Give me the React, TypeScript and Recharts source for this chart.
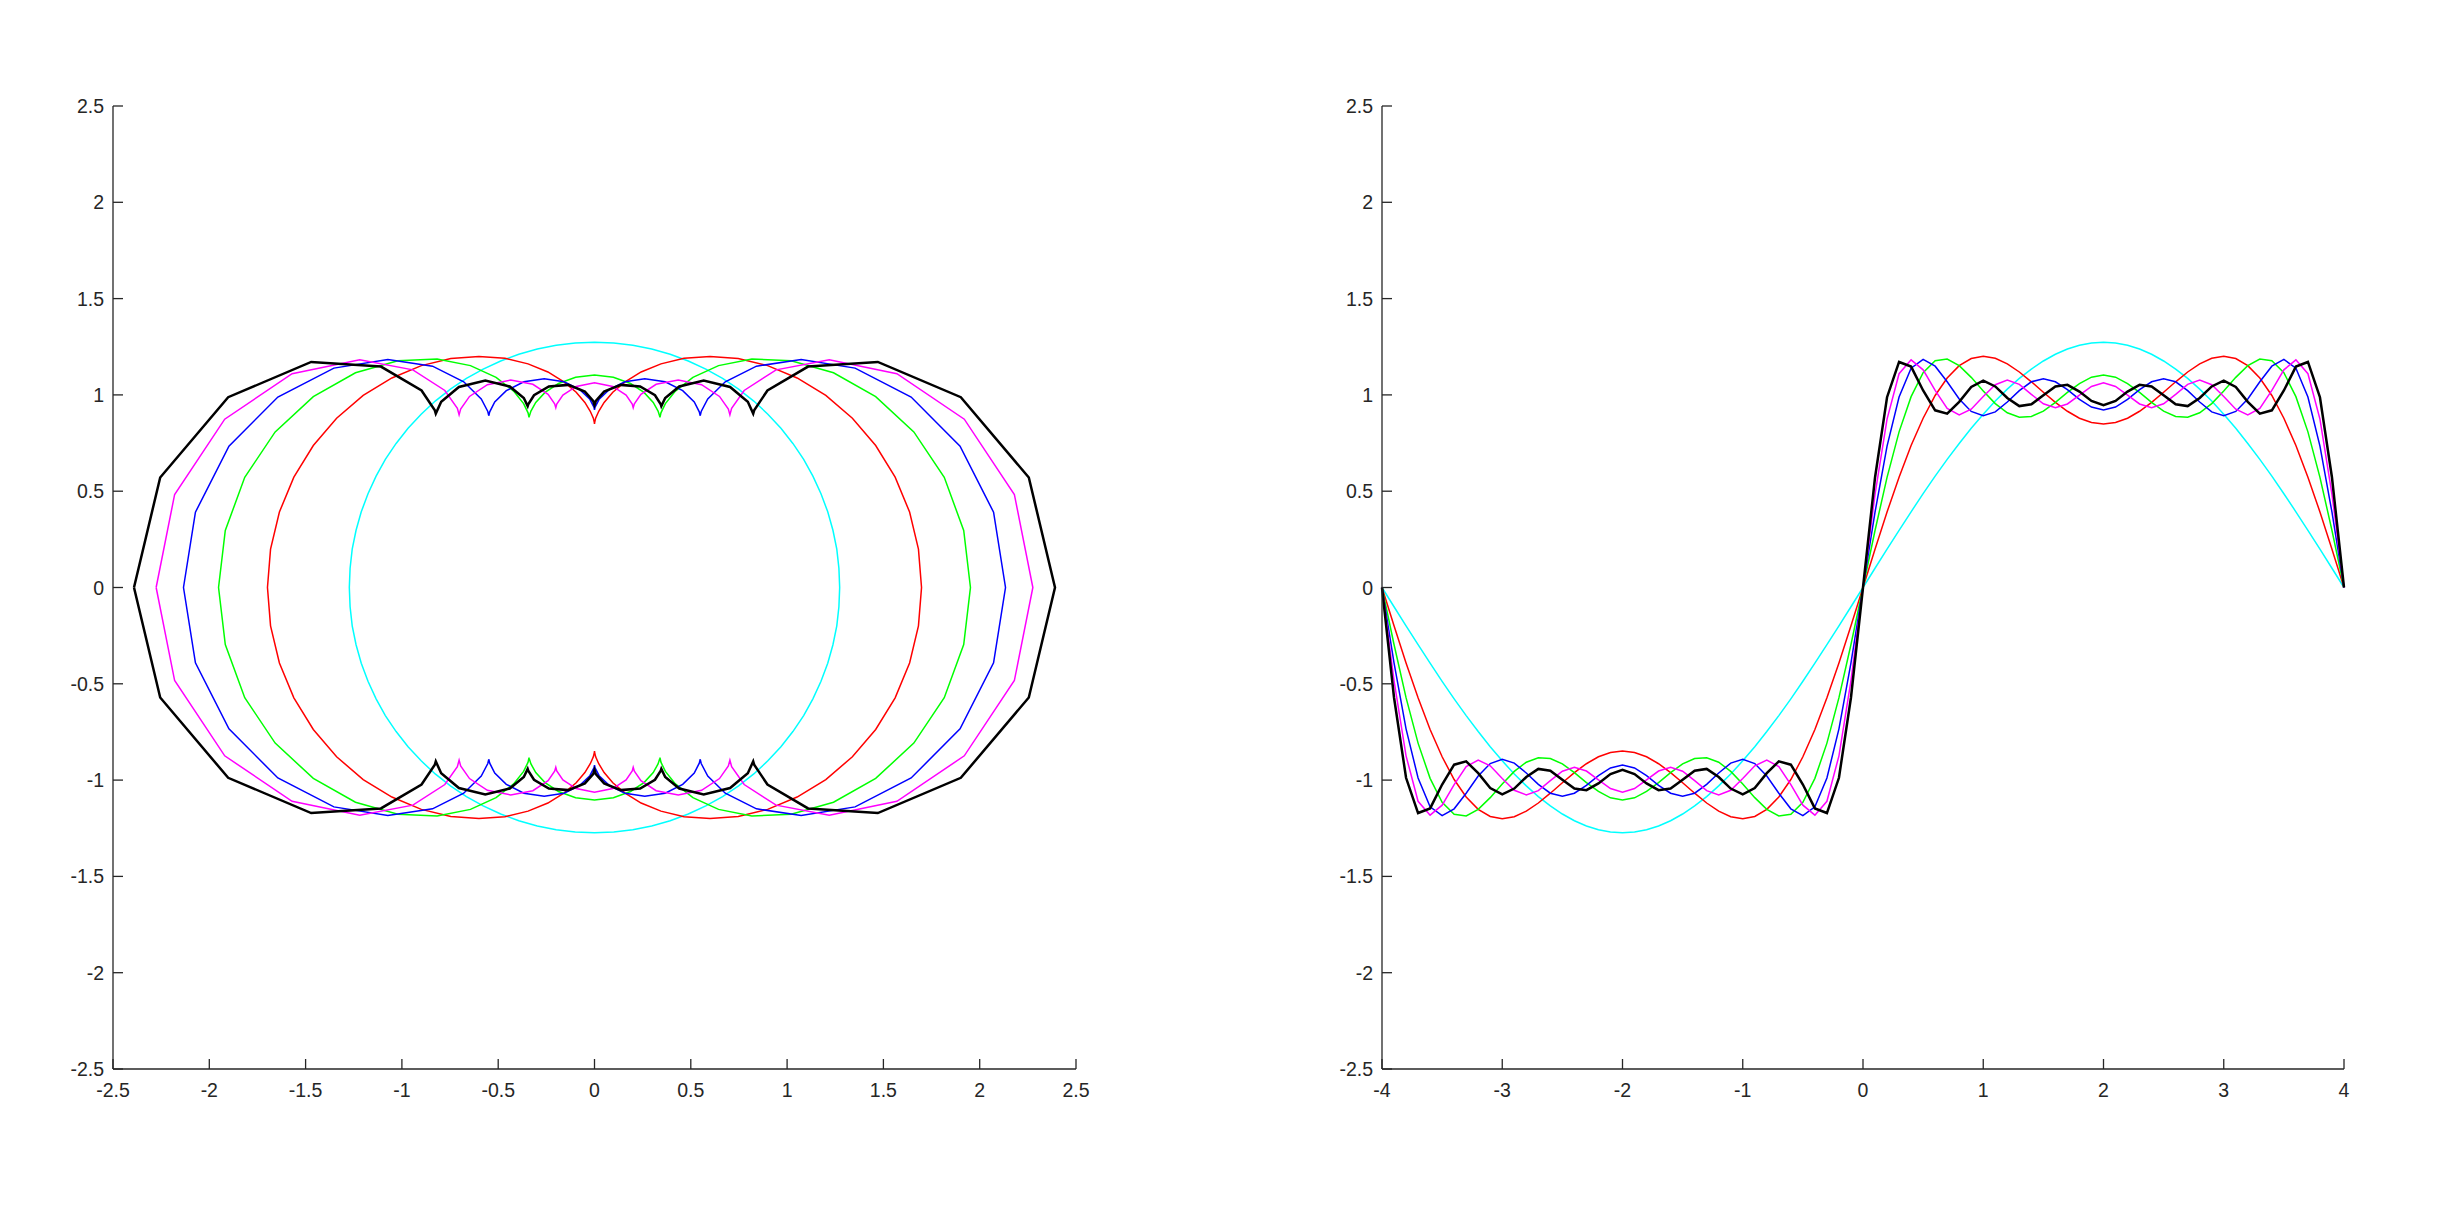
import { ScatterChart, Scatter, LineChart, Line, XAxis, YAxis } from "recharts";

// sample positions for the right panel
const xs = [
  -4, -3.9, -3.8, -3.7, -3.6, -3.5, -3.4, -3.3, -3.2, -3.1, -3, -2.9, -2.8, -2.7, -2.6, -2.5, -2.4, -2.3, -2.2, -2.1,
  -2, -1.9, -1.8, -1.7, -1.6, -1.5, -1.4, -1.3, -1.2, -1.1, -1, -0.9, -0.8, -0.7, -0.6, -0.5, -0.4, -0.3, -0.2, -0.1,
  0, 0.1, 0.2, 0.3, 0.4, 0.5, 0.6, 0.7, 0.8, 0.9, 1, 1.1, 1.2, 1.3, 1.4, 1.5, 1.6, 1.7, 1.8, 1.9,
  2, 2.1, 2.2, 2.3, 2.4, 2.5, 2.6, 2.7, 2.8, 2.9, 3, 3.1, 3.2, 3.3, 3.4, 3.5, 3.6, 3.7, 3.8, 3.9, 4,
];

// partial sums (sine part) - right panel y, left panel y
const s1 = [
  0, -0.100, -0.199, -0.297, -0.393, -0.487, -0.578, -0.665, -0.748, -0.827, -0.900, -0.968, -1.030, -1.086, -1.134, -1.176, -1.211, -1.238, -1.258, -1.269, -1.273,
  -1.269, -1.258, -1.238, -1.211, -1.176, -1.134, -1.086, -1.030, -0.968, -0.900, -0.827, -0.748, -0.665, -0.578, -0.487, -0.393, -0.297, -0.199, -0.100,
  0,
  0.100, 0.199, 0.297, 0.393, 0.487, 0.578, 0.665, 0.748, 0.827, 0.900, 0.968, 1.030, 1.086, 1.134, 1.176, 1.211, 1.238, 1.258, 1.269, 1.273,
  1.269, 1.258, 1.238, 1.211, 1.176, 1.134, 1.086, 1.030, 0.968, 0.900, 0.827, 0.748, 0.665, 0.578, 0.487, 0.393, 0.297, 0.199, 0.100, 0,
];
const s2 = [
  0, -0.199, -0.392, -0.573, -0.737, -0.879, -0.997, -1.088, -1.152, -1.189, -1.200, -1.190, -1.161, -1.119, -1.068, -1.014, -0.961, -0.915, -0.879, -0.857, -0.849,
  -0.857, -0.879, -0.915, -0.961, -1.014, -1.068, -1.119, -1.161, -1.190, -1.200, -1.189, -1.152, -1.088, -0.997, -0.879, -0.737, -0.573, -0.392, -0.199,
  0,
  0.199, 0.392, 0.573, 0.737, 0.879, 0.997, 1.088, 1.152, 1.189, 1.200, 1.190, 1.161, 1.119, 1.068, 1.014, 0.961, 0.915, 0.879, 0.857, 0.849,
  0.857, 0.879, 0.915, 0.961, 1.014, 1.068, 1.119, 1.161, 1.190, 1.200, 1.189, 1.152, 1.088, 0.997, 0.879, 0.737, 0.573, 0.392, 0.199, 0,
];
const s3 = [
  0, -0.296, -0.572, -0.808, -0.991, -1.115, -1.177, -1.186, -1.152, -1.091, -1.020, -0.955, -0.907, -0.884, -0.888, -0.916, -0.961, -1.013, -1.059, -1.092, -1.103,
  -1.092, -1.059, -1.013, -0.961, -0.916, -0.888, -0.884, -0.907, -0.955, -1.020, -1.091, -1.152, -1.186, -1.177, -1.115, -0.991, -0.808, -0.572, -0.296,
  0,
  0.296, 0.572, 0.808, 0.991, 1.115, 1.177, 1.186, 1.152, 1.091, 1.020, 0.955, 0.907, 0.884, 0.888, 0.916, 0.961, 1.013, 1.059, 1.092, 1.103,
  1.092, 1.059, 1.013, 0.961, 0.916, 0.888, 0.884, 0.907, 0.955, 1.020, 1.091, 1.152, 1.186, 1.177, 1.115, 0.991, 0.808, 0.572, 0.296, 0,
];
const s4 = [
  0, -0.391, -0.734, -0.989, -1.139, -1.184, -1.149, -1.068, -0.979, -0.914, -0.892, -0.912, -0.963, -1.022, -1.068, -1.084, -1.068, -1.027, -0.977, -0.937, -0.922,
  -0.937, -0.977, -1.027, -1.068, -1.084, -1.068, -1.022, -0.963, -0.912, -0.892, -0.914, -0.979, -1.068, -1.149, -1.184, -1.139, -0.989, -0.734, -0.391,
  0,
  0.391, 0.734, 0.989, 1.139, 1.184, 1.149, 1.068, 0.979, 0.914, 0.892, 0.912, 0.963, 1.022, 1.068, 1.084, 1.068, 1.027, 0.977, 0.937, 0.922,
  0.937, 0.977, 1.027, 1.068, 1.084, 1.068, 1.022, 0.963, 0.912, 0.892, 0.914, 0.979, 1.068, 1.149, 1.184, 1.139, 0.989, 0.734, 0.391, 0,
];
const s5 = [
  0, -0.483, -0.874, -1.110, -1.182, -1.130, -1.023, -0.930, -0.896, -0.926, -0.992, -1.053, -1.077, -1.055, -1.003, -0.954, -0.934, -0.953, -0.999, -1.044, -1.063,
  -1.044, -0.999, -0.953, -0.934, -0.954, -1.003, -1.055, -1.077, -1.053, -0.992, -0.926, -0.896, -0.930, -1.023, -1.130, -1.182, -1.110, -0.874, -0.483,
  0,
  0.483, 0.874, 1.110, 1.182, 1.130, 1.023, 0.930, 0.896, 0.926, 0.992, 1.053, 1.077, 1.055, 1.003, 0.954, 0.934, 0.953, 0.999, 1.044, 1.063,
  1.044, 0.999, 0.953, 0.934, 0.954, 1.003, 1.055, 1.077, 1.053, 0.992, 0.926, 0.896, 0.930, 1.023, 1.130, 1.182, 1.110, 0.874, 0.483, 0,
];
const s6 = [
  0, -0.571, -0.988, -1.171, -1.147, -1.023, -0.920, -0.903, -0.964, -1.041, -1.074, -1.044, -0.984, -0.942, -0.951, -0.998, -1.044, -1.052, -1.017, -0.969, -0.947,
  -0.969, -1.017, -1.052, -1.044, -0.998, -0.951, -0.942, -0.984, -1.044, -1.074, -1.041, -0.964, -0.903, -0.920, -1.023, -1.147, -1.171, -0.988, -0.571,
  0,
  0.571, 0.988, 1.171, 1.147, 1.023, 0.920, 0.903, 0.964, 1.041, 1.074, 1.044, 0.984, 0.942, 0.951, 0.998, 1.044, 1.052, 1.017, 0.969, 0.947,
  0.969, 1.017, 1.052, 1.044, 0.998, 0.951, 0.942, 0.984, 1.044, 1.074, 1.041, 0.964, 0.903, 0.920, 1.023, 1.147, 1.171, 0.988, 0.571, 0,
];

// cosine part - left panel x
const c1 = [
  -1.273, -1.269, -1.258, -1.238, -1.211, -1.176, -1.134, -1.086, -1.030, -0.968, -0.900, -0.827, -0.748, -0.665, -0.578, -0.487, -0.393, -0.297, -0.199, -0.100,
  0,
  0.100, 0.199, 0.297, 0.393, 0.487, 0.578, 0.665, 0.748, 0.827, 0.900, 0.968, 1.030, 1.086, 1.134, 1.176, 1.211, 1.238, 1.258, 1.269, 1.273,
  1.269, 1.258, 1.238, 1.211, 1.176, 1.134, 1.086, 1.030, 0.968, 0.900, 0.827, 0.748, 0.665, 0.578, 0.487, 0.393, 0.297, 0.199, 0.100, 0,
  -0.100, -0.199, -0.297, -0.393, -0.487, -0.578, -0.665, -0.748, -0.827, -0.900, -0.968, -1.030, -1.086, -1.134, -1.176, -1.211, -1.238, -1.258, -1.269, -1.273,
];
const c2 = [
  -1.698, -1.682, -1.636, -1.561, -1.460, -1.339, -1.201, -1.052, -0.899, -0.746, -0.600, -0.465, -0.345, -0.242, -0.159, -0.095, -0.050, -0.022, -0.006, -0.001,
  0,
  0.001, 0.006, 0.022, 0.050, 0.095, 0.159, 0.242, 0.345, 0.465, 0.600, 0.746, 0.899, 1.052, 1.201, 1.339, 1.460, 1.561, 1.636, 1.682, 1.698,
  1.682, 1.636, 1.561, 1.460, 1.339, 1.201, 1.052, 0.899, 0.746, 0.600, 0.465, 0.345, 0.242, 0.159, 0.095, 0.050, 0.022, 0.006, 0.001, 0,
  -0.001, -0.006, -0.022, -0.050, -0.095, -0.159, -0.242, -0.345, -0.465, -0.600, -0.746, -0.899, -1.052, -1.201, -1.339, -1.460, -1.561, -1.636, -1.682, -1.698,
];
const c3 = [
  -1.952, -1.917, -1.816, -1.658, -1.460, -1.241, -1.021, -0.817, -0.644, -0.511, -0.420, -0.368, -0.345, -0.340, -0.339, -0.330, -0.305, -0.257, -0.187, -0.098,
  0,
  0.098, 0.187, 0.257, 0.305, 0.330, 0.339, 0.340, 0.345, 0.368, 0.420, 0.511, 0.644, 0.817, 1.021, 1.241, 1.460, 1.658, 1.816, 1.917, 1.952,
  1.917, 1.816, 1.658, 1.460, 1.241, 1.021, 0.817, 0.644, 0.511, 0.420, 0.368, 0.345, 0.340, 0.339, 0.330, 0.305, 0.257, 0.187, 0.098, 0,
  -0.098, -0.187, -0.257, -0.305, -0.330, -0.339, -0.340, -0.345, -0.368, -0.420, -0.511, -0.644, -0.817, -1.021, -1.241, -1.460, -1.658, -1.816, -1.917, -1.952,
];
const c4 = [
  -2.134, -2.072, -1.898, -1.644, -1.353, -1.073, -0.841, -0.679, -0.588, -0.554, -0.549, -0.544, -0.518, -0.458, -0.367, -0.261, -0.158, -0.076, -0.024, -0.003,
  0,
  0.003, 0.024, 0.076, 0.158, 0.261, 0.367, 0.458, 0.518, 0.544, 0.549, 0.554, 0.588, 0.679, 0.841, 1.073, 1.353, 1.644, 1.898, 2.072, 2.134,
  2.072, 1.898, 1.644, 1.353, 1.073, 0.841, 0.679, 0.588, 0.554, 0.549, 0.544, 0.518, 0.458, 0.367, 0.261, 0.158, 0.076, 0.024, 0.003, 0,
  -0.003, -0.024, -0.076, -0.158, -0.261, -0.367, -0.458, -0.518, -0.544, -0.549, -0.554, -0.588, -0.679, -0.841, -1.073, -1.353, -1.644, -1.898, -2.072, -2.134,
];
const c5 = [
  -2.276, -2.180, -1.920, -1.570, -1.219, -0.943, -0.777, -0.712, -0.703, -0.695, -0.649, -0.556, -0.435, -0.320, -0.241, -0.207, -0.201, -0.196, -0.164, -0.095,
  0,
  0.095, 0.164, 0.196, 0.201, 0.207, 0.241, 0.320, 0.435, 0.556, 0.649, 0.695, 0.703, 0.712, 0.777, 0.943, 1.219, 1.570, 1.920, 2.180, 2.276,
  2.180, 1.920, 1.570, 1.219, 0.943, 0.777, 0.712, 0.703, 0.695, 0.649, 0.556, 0.435, 0.320, 0.241, 0.207, 0.201, 0.196, 0.164, 0.095, 0,
  -0.095, -0.164, -0.196, -0.201, -0.207, -0.241, -0.320, -0.435, -0.556, -0.649, -0.695, -0.703, -0.712, -0.777, -0.943, -1.219, -1.570, -1.920, -2.180, -2.276,
];
const c6 = [
  -2.391, -2.255, -1.902, -1.471, -1.109, -0.898, -0.829, -0.824, -0.796, -0.704, -0.567, -0.440, -0.367, -0.347, -0.344, -0.314, -0.237, -0.136, -0.050, -0.007,
  0,
  0.007, 0.050, 0.136, 0.237, 0.314, 0.344, 0.347, 0.367, 0.440, 0.567, 0.704, 0.796, 0.824, 0.829, 0.898, 1.109, 1.471, 1.902, 2.255, 2.391,
  2.255, 1.902, 1.471, 1.109, 0.898, 0.829, 0.824, 0.796, 0.704, 0.567, 0.440, 0.367, 0.347, 0.344, 0.314, 0.237, 0.136, 0.050, 0.007, 0,
  -0.007, -0.050, -0.136, -0.237, -0.314, -0.344, -0.347, -0.367, -0.440, -0.567, -0.704, -0.796, -0.824, -0.829, -0.898, -1.109, -1.471, -1.902, -2.255, -2.391,
];

const halfTicks = [-2.5, -2, -1.5, -1, -0.5, 0, 0.5, 1, 1.5, 2, 2.5];
const unitTicks = [-4, -3, -2, -1, 0, 1, 2, 3, 4];

const COLORS = ["#00FFFF", "#FF0000", "#00FF00", "#0000FF", "#FF00FF", "#000000"];
const WIDTHS = [1.5, 1.5, 1.5, 1.5, 1.5, 2.5];

const sines = [s1, s2, s3, s4, s5, s6];
const cosines = [c1, c2, c3, c4, c5, c6];

const AXIS = "#262626";
const FONT = "'Liberation Sans', Arial, Helvetica, sans-serif";
const FONT_SIZE = 19.5;

const curves = cosines.map((cs, k) => cs.map((cx, i) => ({ x: cx, y: sines[k][i] })));
const rows = xs.map((x, i) => ({ x, s1: s1[i], s2: s2[i], s3: s3[i], s4: s4[i], s5: s5[i], s6: s6[i] }));

function BottomTick(props: any) {
  const { x, y, payload } = props;
  return (
    <g>
      <line x1={x} y1={y} x2={x} y2={y - 10} stroke={AXIS} strokeWidth={1.3} />
      <text x={x} y={y + 28} textAnchor="middle" fill={AXIS} fontSize={FONT_SIZE} fontFamily={FONT}>
        {String(payload.value)}
      </text>
    </g>
  );
}

function LeftTick(props: any) {
  const { x, y, payload } = props;
  return (
    <g>
      <line x1={x} y1={y} x2={x + 10} y2={y} stroke={AXIS} strokeWidth={1.3} />
      <text x={x - 9} y={y + 7} textAnchor="end" fill={AXIS} fontSize={FONT_SIZE} fontFamily={FONT}>
        {String(payload.value)}
      </text>
    </g>
  );
}

const noDot = () => null;

export default function App() {
  return (
    <div style={{ position: "absolute", left: 0, top: 0, width: 2441, height: 1230, background: "#fff" }}>
      <div style={{ position: "absolute", left: 0, top: 0 }}>
        <ScatterChart width={1200} height={1230} margin={{ top: 106, right: 124, bottom: 101, left: 53 }}>
          <XAxis
            type="number"
            dataKey="x"
            domain={[-2.5, 2.5]}
            ticks={halfTicks}
            interval={0}
            height={60}
            tickSize={0}
            tickMargin={0}
            tickLine={false}
            axisLine={{ stroke: AXIS, strokeWidth: 1.3 }}
            tick={<BottomTick />}
          />
          <YAxis
            type="number"
            dataKey="y"
            domain={[-2.5, 2.5]}
            ticks={halfTicks}
            interval={0}
            width={60}
            tickSize={0}
            tickMargin={0}
            tickLine={false}
            axisLine={{ stroke: AXIS, strokeWidth: 1.3 }}
            tick={<LeftTick />}
          />
          {curves.map((pts, k) => (
            <Scatter
              key={`c${k}`}
              data={pts}
              fill={COLORS[k]}
              line={{ stroke: COLORS[k], strokeWidth: WIDTHS[k] }}
              lineType="joint"
              lineJointType="linear"
              shape={noDot}
              isAnimationActive={false}
            />
          ))}
        </ScatterChart>
      </div>
      <div style={{ position: "absolute", left: 1240, top: 0 }}>
        <LineChart width={1200} height={1230} data={rows} margin={{ top: 106, right: 96, bottom: 101, left: 82 }}>
          <XAxis
            type="number"
            dataKey="x"
            domain={[-4, 4]}
            ticks={unitTicks}
            interval={0}
            height={60}
            tickSize={0}
            tickMargin={0}
            tickLine={false}
            axisLine={{ stroke: AXIS, strokeWidth: 1.3 }}
            tick={<BottomTick />}
          />
          <YAxis
            type="number"
            domain={[-2.5, 2.5]}
            ticks={halfTicks}
            interval={0}
            width={60}
            tickSize={0}
            tickMargin={0}
            tickLine={false}
            axisLine={{ stroke: AXIS, strokeWidth: 1.3 }}
            tick={<LeftTick />}
          />
          {["s1", "s2", "s3", "s4", "s5", "s6"].map((key, k) => (
            <Line
              key={key}
              dataKey={key}
              type="linear"
              stroke={COLORS[k]}
              strokeWidth={WIDTHS[k]}
              dot={false}
              activeDot={false}
              isAnimationActive={false}
            />
          ))}
        </LineChart>
      </div>
    </div>
  );
}
